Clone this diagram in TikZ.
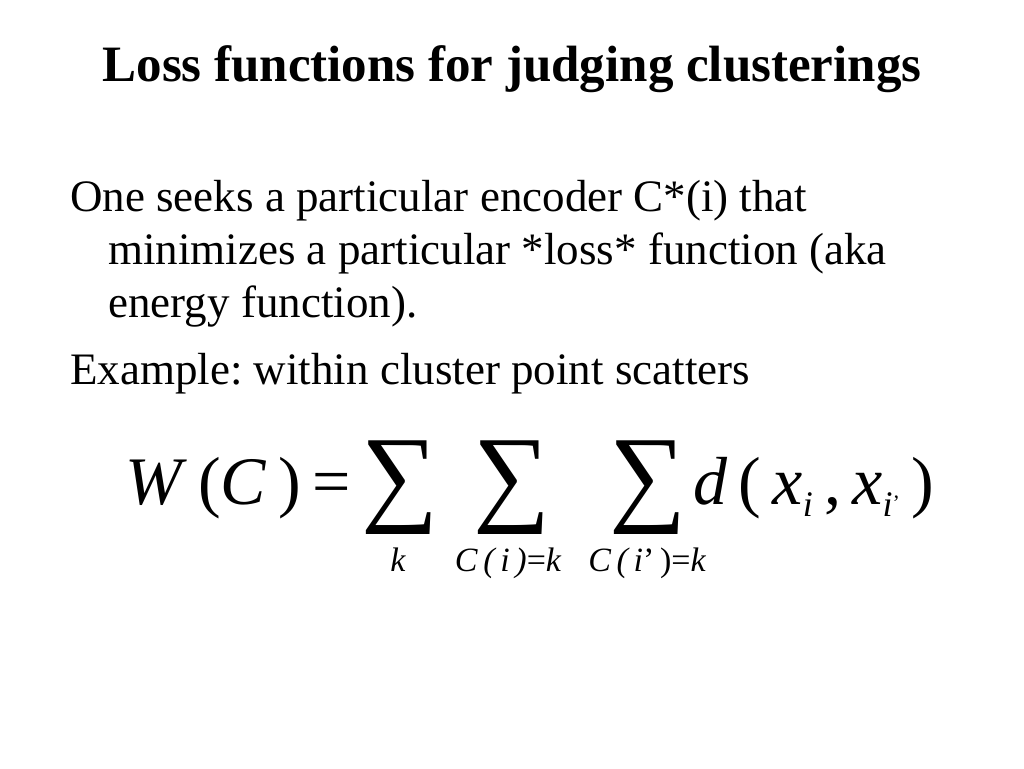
\documentclass[tikz,border=0pt]{standalone}
\usepackage{fontspec}
\setmainfont{Liberation Serif}
\frenchspacing
\begin{document}
\begin{tikzpicture}[x=1pt,y=1pt,
  body/.style={anchor=base west,inner sep=0pt,font=\fontsize{45}{45}\selectfont},
  eq/.style={anchor=base west,inner sep=0pt,font=\fontsize{68}{68}\selectfont},
  sig/.style={anchor=base,inner sep=0pt,font=\fontsize{108}{108}\selectfont},
  sub/.style={anchor=base,inner sep=0pt,font=\fontsize{34}{34}\selectfont\itshape}]
\useasboundingbox (0,0) rectangle (1024,768);
\node[anchor=base,inner sep=0pt,font=\fontsize{51}{51}\selectfont\bfseries] (title) at (512,686) {Loss functions for judging clusterings};
\node[body] (l1) at (70,556) {One seeks a particular encoder C*(i) that};
\node[body] (l2) at (108,503) {minimizes a particular *loss* function (aka};
\node[body] (l3) at (108,450) {energy function).};
\node[body] (l4) at (70,383) {Example: within cluster point scatters};
\node[eq] (lhs) at (125,263) {\textit{W}\,(\textit{C}\,)\,=};
\node[sig] (s1) at (400,256) {∑};
\node[sig] (s2) at (512,256) {∑};
\node[sig] (s3) at (648,256) {∑};
\node[eq] (rhs) at (693,263) {\textit{d}\,(\,\textit{x}\raisebox{-12pt}{\fontsize{36}{36}\selectfont\itshape i}\,,\,\textit{x}\raisebox{-12pt}{\fontsize{36}{36}\selectfont\itshape i\upshape\fontsize{22}{22}\selectfont\raisebox{6pt}{'}}\,)};
\node[sub] (k1) at (398,196) {k};
\node[sub] (k2) at (508,196) {C\,(\,i\,)\upshape=\itshape k};
\node[sub] (k3) at (647,196) {C\,(\,i\upshape'\,)=\itshape k};
\end{tikzpicture}
\end{document}
